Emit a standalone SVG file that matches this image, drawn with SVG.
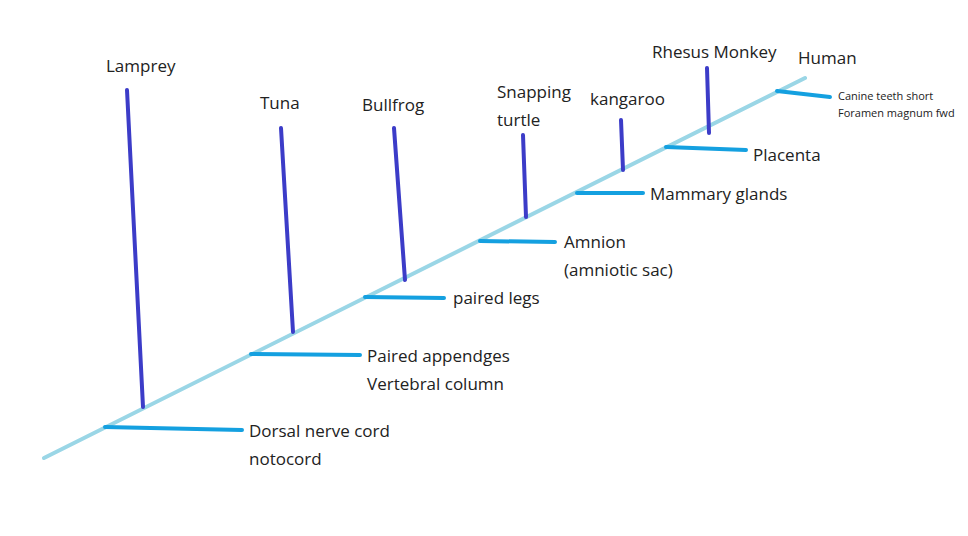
<svg xmlns="http://www.w3.org/2000/svg" width="968" height="536" viewBox="0 0 968 536">
<style>
text{font-family:"Open Sans","Liberation Sans",sans-serif;font-size:17px;fill:#222}
.s{font-size:11px}
.trunk{stroke:#9ad6e6;stroke-width:4;stroke-linecap:round;fill:none}
.br{stroke:#3c3cc8;stroke-width:4;stroke-linecap:round;fill:none}
.ch{stroke:#14a0e0;stroke-width:4;stroke-linecap:round;fill:none}
</style>
<rect width="968" height="536" fill="#fff"/>
<g id="connectors">
<path class="trunk" d="M44,458 L805,78"/>
<path class="br" d="M127,90 L143,407"/>
<path class="br" d="M281,128 L293,332"/>
<path class="br" d="M394,128 L405,280"/>
<path class="br" d="M523,135 L526,217"/>
<path class="br" d="M621,120 L623,170"/>
<path class="br" d="M707,68 L709,133"/>
<path class="ch" d="M105,427 L242,430"/>
<path class="ch" d="M251,354 L360,355"/>
<path class="ch" d="M365,297 L444,298"/>
<path class="ch" d="M480,241 L555,242"/>
<path class="ch" d="M577,193 L643,193"/>
<path class="ch" d="M666,147 L746,150"/>
<path class="ch" d="M777,91 L830,97"/>
</g>
<g id="lamprey"><text x="106" y="72">Lamprey</text></g>
<g id="tuna"><text x="260" y="109">Tuna</text></g>
<g id="bullfrog"><text x="362" y="111">Bullfrog</text></g>
<g id="turtle"><text x="497" y="98">Snapping</text><text x="497" y="126">turtle</text></g>
<g id="kangaroo"><text x="590" y="105">kangaroo</text></g>
<g id="rhesus"><text x="652" y="58">Rhesus Monkey</text></g>
<g id="human"><text x="798" y="64">Human</text></g>
<g id="c1"><text x="249" y="437">Dorsal nerve cord</text><text x="249" y="465">notocord</text></g>
<g id="c2"><text x="367" y="362">Paired appendges</text><text x="367" y="390">Vertebral column</text></g>
<g id="c3"><text x="453" y="304">paired legs</text></g>
<g id="c4"><text x="564" y="248">Amnion</text><text x="564" y="276">(amniotic sac)</text></g>
<g id="c5"><text x="650" y="200">Mammary glands</text></g>
<g id="c6"><text x="753" y="161">Placenta</text></g>
<g id="c7"><text class="s" x="838" y="100">Canine teeth short</text><text class="s" x="838" y="117">Foramen magnum fwd</text></g>
</svg>
